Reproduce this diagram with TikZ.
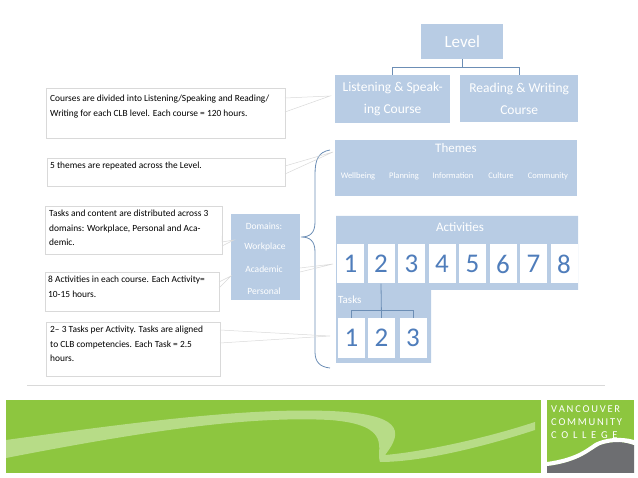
\documentclass[tikz,border=0pt]{standalone}
\usepackage{fontspec}
\setmainfont{Carlito}
\begin{document}
\begin{tikzpicture}[x=1pt,y=-1pt,
  bx/.style={fill=boxc,draw=none},
  wt/.style={text=white,inner sep=0pt,align=center},
  num/.style={fill=white,draw=none,minimum width=27pt,minimum height=39pt,text=numc,font=\fontsize{27}{27}\selectfont,inner sep=0pt},
  note/.style={draw=lineg,fill=white,line width=0.5pt},
  notetxt/.style={anchor=north west,align=left,font=\fontsize{9.4}{14.5}\selectfont,inner sep=0pt},
  tail/.style={draw=lineg,line width=0.5pt},
  conn/.style={draw=connc,line width=0.8pt}]
\definecolor{boxc}{HTML}{B8CCE4}
\definecolor{numc}{HTML}{4F7DBB}
\definecolor{lineg}{HTML}{D9D9D9}
\definecolor{connc}{HTML}{6C8EB5}
\definecolor{grn}{HTML}{8DC63F}
\definecolor{lgrn}{HTML}{B7DC87}
\definecolor{gry}{HTML}{6D6E71}
\useasboundingbox (0,0) rectangle (638,478);
% Level tree
\node[bx,minimum width=82pt,minimum height=35pt,anchor=north west,wt,font=\fontsize{17}{17}\selectfont] (lev) at (421,24) {Level};
\node[bx,minimum width=115pt,minimum height=48pt,anchor=north west] (ls) at (335,75) {};
\node[wt,font=\fontsize{13.5}{22}\selectfont] at (ls.center) {Listening \& Speak-\\ing Course};
\node[bx,minimum width=118pt,minimum height=47pt,anchor=north west] (rw) at (460,75) {};
\node[wt,font=\fontsize{13.5}{22}\selectfont] at (rw.center) {Reading \& Writing\\Course};
\draw[conn] (lev.south) -- ++(0,8) -| (ls.north);
\draw[conn] (lev.south) -- ++(0,8) -| (rw.north);
% Themes
\node[bx,minimum width=242pt,minimum height=56pt,anchor=north west] (th) at (335,140) {};
\node[wt,font=\fontsize{13}{13}\selectfont] at (456,148) {Themes};
\node[wt,font=\fontsize{8.5}{8.5}\selectfont] at (358,176) {Wellbeing};
\node[wt,font=\fontsize{8.5}{8.5}\selectfont] at (404,176) {Planning};
\node[wt,font=\fontsize{8.5}{8.5}\selectfont] at (453,176) {Information};
\node[wt,font=\fontsize{8.5}{8.5}\selectfont] at (501,176) {Culture};
\node[wt,font=\fontsize{8.5}{8.5}\selectfont] at (548,176) {Community};
% Activities
\fill[boxc] (336,216) -- (578,216) -- (578,290) -- (431,290) -- (431,363) -- (336,363) -- cycle;
\node[wt,font=\fontsize{13}{13}\selectfont] (act) at (460,227) {Activities};
\foreach \i in {1,...,8}{
  \node[num] (a\i) at ({350.5+30.5*(\i-1)},264) {\i};
}
\node[text=white,font=\fontsize{11}{11}\selectfont,anchor=west,inner sep=0pt] (tk) at (338,300) {Tasks};
\node[num,minimum height=40pt] (t1) at (351.5,338) {1};
\node[num,minimum height=40pt] (t2) at (381.5,338) {2};
\node[num,minimum height=40pt] (t3) at (413,338) {3};
\draw[conn] (a2.south) -- (t2.north);
\draw[conn] (t1.north) -- ++(0,-7) -| (t3.north);
% Domains
\node[bx,minimum width=69pt,minimum height=86pt,anchor=north west] (dom) at (231,214) {};
\node[wt,font=\fontsize{9.5}{9.5}\selectfont] at (264,226) {Domains:};
\node[wt,font=\fontsize{9.5}{9.5}\selectfont] at (265,247) {Workplace};
\node[wt,font=\fontsize{9.5}{9.5}\selectfont] at (264,269) {Academic};
\node[wt,font=\fontsize{9.5}{9.5}\selectfont] at (264,291) {Personal};
% brace
\coordinate (bt) at (330,150);
\coordinate (bb) at (330,368);
\coordinate (bm) at (301,237);
\draw[conn] (bt) .. controls (318,152) and (315,160) .. (315,175) -- (315,222) .. controls (315,233) and (310,237) .. (bm)
  .. controls (310,237) and (315,241) .. (315,252) -- (315,352) .. controls (315,362) and (320,367) .. (bb);
% notes
\node[note,minimum width=239pt,minimum height=50pt,anchor=north west] (n1) at (46,88) {};
\node[notetxt] at (50,95) {Courses are divided into Listening/Speaking and Reading/\\Writing for each CLB level. Each course = 120 hours.};
\node[note,minimum width=238pt,minimum height=28pt,anchor=north west] (n2) at (47,158) {};
\node[notetxt] at (50,162) {5 themes are repeated across the Level.};
\node[note,minimum width=177pt,minimum height=48pt,anchor=north west] (n3) at (45,206) {};
\node[notetxt] at (49,210) {Tasks and content are distributed across 3\\domains: Workplace, Personal and Aca-\\demic.};
\node[note,minimum width=174pt,minimum height=39pt,anchor=north west] (n4) at (45,272) {};
\node[notetxt] at (48,276) {8 Activities in each course. Each Activity=\\10-15 hours.};
\node[note,minimum width=174pt,minimum height=54pt,anchor=north west] (n5) at (46,322) {};
\node[notetxt] at (50,326) {2-- 3 Tasks per Activity. Tasks are aligned\\to CLB competencies. Each Task = 2.5\\hours.};
% tails
\coordinate (p1) at (330,96);
\coordinate (p2) at (333,152);
\coordinate (p3) at (234,240);
\coordinate (p4) at (231,276);
\coordinate (p5) at (330,336);
\coordinate (p6) at (333,264);
\draw[tail] (285,98) -- (p1) -- (285,112);
\draw[tail] (285,166) -- (p2) -- (285,174);
\draw[tail] (222,236) -- (222,242) -- (p3) -- (222,246);
\draw[tail] (219,282) -- (p4) -- (219,288);
\draw[tail] (300,268) -- (p6) -- (300,272);
\draw[tail] (220,330) -- (p5) -- (220,343);
% separator
\draw[lineg,line width=0.8pt] (27,385) -- (605,385);
% footer
\fill[grn] (6,400) rectangle (541,473);
\fill[lgrn] (6,440) .. controls (150,420) and (250,408) .. (330,411) .. controls (400,414) and (405,430) .. (385,455)
  .. controls (420,452) and (480,440) .. (535,422) -- (535,430) .. controls (480,448) and (420,462) .. (380,462)
  .. controls (375,450) and (395,425) .. (330,420) .. controls (250,416) and (150,430) .. (6,458) -- cycle;
\fill[grn] (547,400) rectangle (634,473);
\fill[gry] (547,473) -- (547,466) .. controls (580,462) and (590,450) .. (600,445) .. controls (615,440) and (625,442) .. (634,445) -- (634,473) -- cycle;
\fill[white] (547,466) .. controls (580,462) and (590,450) .. (600,445) .. controls (615,440) and (625,442) .. (634,445) -- (634,440) .. controls (620,436) and (605,438) .. (595,443) .. controls (585,450) and (575,458) .. (547,462) -- cycle;
\node[text=white,font=\fontsize{10.5}{13}\selectfont,align=left,anchor=north west,inner sep=0pt] (vcc) at (551,405) {V\,A\,N\,C\,O\,U\,V\,E\,R\\C\,O\,M\,M\,U\,N\,I\,T\,Y\\C\;\,O\;\,L\;\,L\;\,E\;\,G\;\,E};
\end{tikzpicture}
\end{document}
